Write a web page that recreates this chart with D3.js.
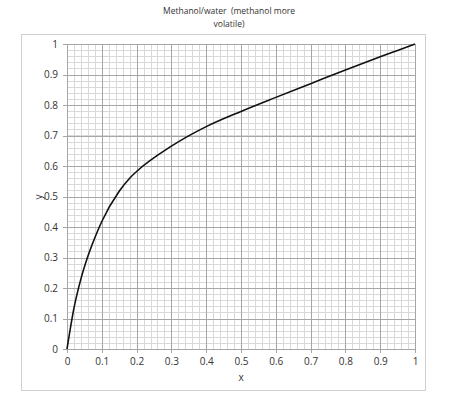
<!DOCTYPE html>
<html>
<head>
<meta charset="utf-8">
<script src="https://cdn.jsdelivr.net/npm/d3@7"></script>
<style>
  body { margin: 0; background: #fff; }
  text { font-family: "Open Sans", "Liberation Sans", sans-serif; fill: #333; }
</style>
</head>
<body>
<div id="chart"></div>
<script>
// equilibrium curve
var xVals = [0, 0.02, 0.04, 0.06, 0.08, 0.10, 0.15, 0.18, 0.20, 0.30, 0.40, 0.50, 0.60, 0.70, 0.80, 0.90, 0.95, 1.0];
var yVals = [0, 0.134, 0.23, 0.304, 0.365, 0.418, 0.517, 0.56, 0.582, 0.665, 0.729, 0.779, 0.825, 0.870, 0.915, 0.958, 0.979, 1.0];
var tickVals = [0, 0.1, 0.2, 0.3, 0.4, 0.5, 0.6, 0.7, 0.8, 0.9, 1];
var titleLines = ["Methanol/water  (methanol more", "volatile)"];

var width = 474, height = 395;
var plotL = 67, plotR = 415, plotT = 44, plotB = 349;

var svg = d3.select("#chart").append("svg")
  .attr("width", width)
  .attr("height", height);

// outer chart frame
svg.append("rect")
  .attr("x", 21.5).attr("y", 34.5)
  .attr("width", 404).attr("height", 356)
  .attr("fill", "none")
  .attr("stroke", "#d0d0d0");

svg.selectAll(".title")
  .data(titleLines)
  .enter().append("text")
  .attr("class", "title")
  .attr("x", 229)
  .attr("y", function(d, i){ return 14 + i*13 })
  .attr("text-anchor", "middle")
  .style("font-size", "8.5px")
  .style("white-space", "pre")
  .text(function(d){ return d });

var x = d3.scaleLinear().domain([0, 1]).range([plotL, plotR]);
var y = d3.scaleLinear().domain([0, 1]).range([plotB, plotT]);

var minor = d3.range(0, 1.0001, 0.02);

var grid = svg.append("g");
grid.selectAll(".vminor")
  .data(minor)
  .enter().append("line")
  .attr("x1", function(d){ return Math.round(x(d)) + 0.5 })
  .attr("x2", function(d){ return Math.round(x(d)) + 0.5 })
  .attr("y1", plotT).attr("y2", plotB)
  .attr("stroke", "#d9d9d9");
grid.selectAll(".hminor")
  .data(minor)
  .enter().append("line")
  .attr("y1", function(d){ return Math.round(y(d)) + 0.5 })
  .attr("y2", function(d){ return Math.round(y(d)) + 0.5 })
  .attr("x1", plotL).attr("x2", plotR)
  .attr("stroke", "#d9d9d9");
grid.selectAll(".vmajor")
  .data(tickVals)
  .enter().append("line")
  .attr("x1", function(d){ return Math.round(x(d)) + 0.5 })
  .attr("x2", function(d){ return Math.round(x(d)) + 0.5 })
  .attr("y1", plotT).attr("y2", plotB + 4)
  .attr("stroke", "#a6a6a6");
grid.selectAll(".hmajor")
  .data(tickVals)
  .enter().append("line")
  .attr("y1", function(d){ return Math.round(y(d)) + 0.5 })
  .attr("y2", function(d){ return Math.round(y(d)) + 0.5 })
  .attr("x1", plotL - 4).attr("x2", plotR)
  .attr("stroke", "#a6a6a6");

var fmt = function(d){ return d3.format("")(+d.toFixed(1)) };
var xAxis = svg.append("g")
  .attr("transform", "translate(0," + plotB + ")")
  .call(d3.axisBottom(x).tickValues(tickVals).tickSize(0).tickPadding(9).tickFormat(fmt));
var yAxis = svg.append("g")
  .attr("transform", "translate(" + plotL + ",0)")
  .call(d3.axisLeft(y).tickValues(tickVals).tickSize(0).tickPadding(9).tickFormat(fmt));
[xAxis, yAxis].forEach(function(a){
  a.select(".domain").remove();
  a.selectAll("text").style("font-size", "10px").attr("fill", "#333")
    .style("font-family", "'Open Sans', sans-serif");
});

svg.append("text")
  .attr("x", 241).attr("y", 381)
  .attr("text-anchor", "middle")
  .style("font-size", "10px")
  .text("x");
svg.append("text")
  .attr("transform", "translate(42,197) rotate(-90)")
  .attr("text-anchor", "middle")
  .style("font-size", "10px")
  .text("y");

var line = d3.line()
  .x(function(d){ return x(d[0]) })
  .y(function(d){ return y(d[1]) })
  .curve(d3.curveMonotoneX);

svg.append("path")
  .datum(d3.zip(xVals, yVals))
  .attr("d", line)
  .attr("fill", "none")
  .attr("stroke", "#111")
  .attr("stroke-width", 1.6);
</script>
</body>
</html>
